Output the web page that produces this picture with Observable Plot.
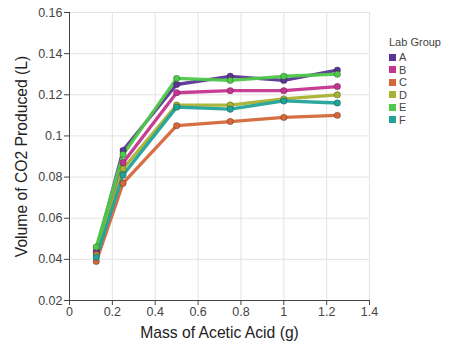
<!DOCTYPE html>
<html><head><meta charset="utf-8">
<script src="https://cdn.jsdelivr.net/npm/d3@7"></script>
<script src="https://cdn.jsdelivr.net/npm/@observablehq/plot@0.6"></script>
<style>
body{margin:0;background:#fff;font-family:"Liberation Sans",Arial,sans-serif;}
#wrap{position:relative;width:474px;height:357px;}
#legend{position:absolute;left:389px;top:36px;font-size:11px;color:#444;}
#legend .t{margin-bottom:3px;}
#legend .row{display:flex;align-items:center;height:12.5px;}
#legend .sw{width:7px;height:7px;margin-right:3px;}
</style></head><body>
<div id="wrap"><div id="chart"></div><div id="legend"></div></div>
<script>
const mass = [0.125, 0.25, 0.5, 0.75, 1.0, 1.25];
const groups = ["A","B","C","D","E","F"];
const colors = ["#5b3596","#c4358f","#d5673a","#a8b233","#4ec94a","#21a39a"];
const groupA = [0.044, 0.093, 0.125, 0.129, 0.127, 0.132];
const groupB = [0.043, 0.087, 0.121, 0.122, 0.122, 0.124];
const groupC = [0.039, 0.077, 0.105, 0.107, 0.109, 0.110];
const groupD = [0.042, 0.084, 0.115, 0.115, 0.118, 0.120];
const groupE = [0.046, 0.091, 0.128, 0.127, 0.129, 0.130];
const groupF = [0.041, 0.081, 0.114, 0.113, 0.117, 0.116];
const xTicks = [0, 0.2, 0.4, 0.6, 0.8, 1, 1.2, 1.4];
const yTicks = [0.02, 0.04, 0.06, 0.08, 0.1, 0.12, 0.14, 0.16];

const series = [groupA, groupB, groupC, groupD, groupE, groupF];
const data = [];
groups.forEach((g, i) => series[i].forEach((v, j) => data.push({group: g, mass: mass[j], vol: v})));
const fmt = d => String(+d.toFixed(2));

const chart = Plot.plot({
  width: 474, height: 357,
  marginLeft: 69, marginRight: 105, marginTop: 12, marginBottom: 57,
  style: {fontFamily: '"Liberation Sans", Arial, sans-serif', fontSize: "12px", color: "#444", background: "#fff"},
  x: {domain: [0, 1.4], ticks: xTicks, tickFormat: fmt, label: null},
  y: {domain: [0.02, 0.16], ticks: yTicks, tickFormat: fmt, label: null},
  color: {domain: groups, range: colors},
  marks: [
    Plot.gridX(xTicks, {stroke: "#e3e3e3", strokeOpacity: 1}),
    Plot.gridY(yTicks, {stroke: "#e3e3e3", strokeOpacity: 1}),
    Plot.ruleX([0], {stroke: "#444", strokeWidth: 1}),
    Plot.ruleY([0.02], {stroke: "#444", strokeWidth: 1}),
    Plot.axisX(xTicks, {tickFormat: fmt, tickSize: 5, fontSize: 12.5, fill: "#444", stroke: "#444", tickPadding: 2,
      label: "Mass of Acetic Acid (g)", labelAnchor: "center", labelArrow: "none", labelOffset: 37}),
    Plot.axisY(yTicks, {tickFormat: fmt, tickSize: 5, fontSize: 12.5, fill: "#444", stroke: "#444", tickPadding: 2,
      label: "Volume of CO2 Produced (L)", labelAnchor: "center", labelArrow: "none", labelOffset: 54}),
    Plot.line(data, {x: "mass", y: "vol", z: "group", stroke: "group", strokeWidth: 3.3, strokeOpacity: 0.95}),
    Plot.dot(data, {x: "mass", y: "vol", fill: "group", r: 3.2, stroke: "#000", strokeOpacity: 0.25, strokeWidth: 1})
  ]
});
document.getElementById("chart").append(chart);
d3.select(chart).selectAll("g[aria-label$='axis label'] text").style("font-size", "15.7px").attr("fill", "#222");

const lg = d3.select("#legend");
lg.append("div").attr("class", "t").text("Lab Group");
groups.forEach((g, i) => {
  const r = lg.append("div").attr("class", "row");
  r.append("div").attr("class", "sw").style("background", colors[i]);
  r.append("span").text(g);
});
</script></body></html>
